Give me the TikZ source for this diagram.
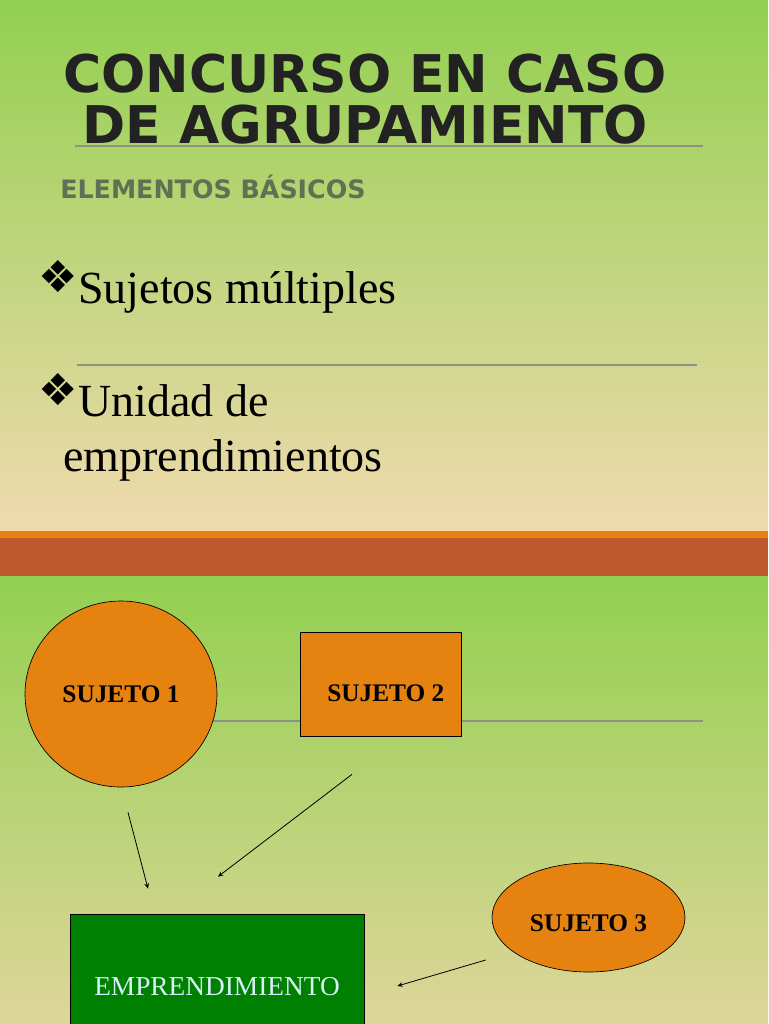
\documentclass[tikz,border=0pt]{standalone}
\usepackage{fontspec}
\setmainfont{Liberation Serif}
\newfontfamily\dejavu{DejaVu Sans}
\usetikzlibrary{shapes.geometric,arrows.meta}
\definecolor{slidegreen}{RGB}{146,208,80}
\definecolor{slidetan}{RGB}{240,218,174}
\definecolor{slidelow}{RGB}{222,214,154}
\definecolor{bandorange}{RGB}{229,130,16}
\definecolor{bandrust}{RGB}{190,88,45}
\definecolor{subgrey}{RGB}{96,112,82}
\definecolor{rulegrey}{RGB}{140,146,136}
\definecolor{empgreen}{RGB}{0,128,0}
\definecolor{emptext}{RGB}{214,240,244}

\begin{document}
\begin{tikzpicture}[
      x=0.75pt, y=-0.75pt,
      rulebar/.style={draw=rulegrey, line width=0.9pt},
      titletext/.style={anchor=base, inner sep=0pt, font=\dejavu\bfseries\fontsize{39}{47}\selectfont, text={rgb,255:red,34;green,34;blue,34}},
      bullettext/.style={anchor=base west, inner sep=0pt, font=\fontsize{34.5}{41}\selectfont},
      bulletmark/.style={anchor=base west, inner sep=0pt, font=\dejavu\fontsize{33}{38}\selectfont},
      sujeto/.style={draw=black, line width=0.5pt, fill=bandorange, inner sep=0pt, font=\bfseries\fontsize{19}{23}\selectfont},
      link/.style={-{Stealth[length=4pt,width=3.5pt]}, line width=0.6pt}
    ]
    \clip (0,0) rectangle (768,1024);
    % first slide
    \shade[top color=slidegreen, bottom color=slidetan] (0,0) rectangle (768,531);
    \fill[bandorange] (0,531) rectangle (768,538);
    \fill[bandrust] (0,538) rectangle (768,576);
    \node[titletext] (title1) at (365,93) {CONCURSO EN CASO};
    \node[titletext] (title2) at (365,143) {DE AGRUPAMIENTO};
    \draw[rulebar] (75,146) -- (703,146);
    \node[anchor=base west, inner sep=0pt, text=subgrey, font=\dejavu\bfseries\fontsize{19}{23}\selectfont] (sub) at (60,198) {ELEMENTOS BÁSICOS};
    \node[bulletmark] (b1) at (38,292) {❖};
    \node[bullettext] (item1) at (78,303) {Sujetos múltiples};
    \draw[rulebar] (77,365) -- (697,365);
    \node[bulletmark] (b2) at (38,405) {❖};
    \node[bullettext] (item2) at (78,416) {Unidad de};
    \node[bullettext] (item3) at (63,471) {emprendimientos};
    % second slide
    \shade[top color=slidegreen, bottom color=slidelow] (0,576) rectangle (768,1024);
    \draw[rulebar] (75,721) -- (703,721);
    \node[sujeto, ellipse, minimum width=144pt, minimum height=139.5pt] (s1) at (121,694) {SUJETO 1};
    \node[sujeto, rectangle, minimum width=120.75pt, minimum height=78pt, text height=26pt, text depth=0pt] (s2) at (380.5,684) {\hspace{8pt}SUJETO 2};
    \node[sujeto, ellipse, minimum width=144.75pt, minimum height=81.75pt, text height=21pt, text depth=0pt] (s3) at (588.5,917.5) {SUJETO 3};
    \node[draw=black, line width=0.5pt, fill=empgreen, text=emptext, minimum width=220.5pt, minimum height=109.5pt, inner sep=0pt, font=\fontsize{20.5}{24}\selectfont] (emp) at (217,987) {EMPRENDIMIENTO};
    \draw[link] ([shift={(7,25)}]s1.south) -- ([shift={(-69,-25)}]emp.north);
    \draw[link] ([shift={(-28.5,38)}]s2.south) -- ([shift={(1,-37)}]emp.north);
    \draw[link] ([shift={(-6,42.5)}]s3.west) -- ([shift={(33,-1)}]emp.east);
\end{tikzpicture}
\end{document}
